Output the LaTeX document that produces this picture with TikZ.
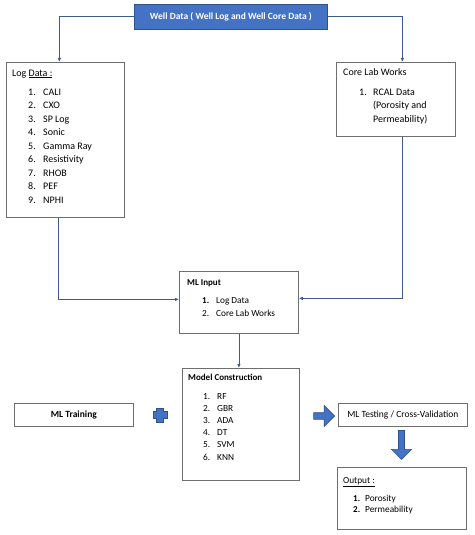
\documentclass[tikz,border=0pt]{standalone}
\usepackage{fontspec}
\setmainfont{Carlito}
\usepackage{tikz}
\usetikzlibrary{arrows.meta, shapes.arrows}

\definecolor{wellblue}{HTML}{4472C4}
\definecolor{welledge}{HTML}{2F528F}
\definecolor{linkblue}{HTML}{40598A}
\definecolor{boxgray}{HTML}{6E6E6E}

\tikzset{
  frame/.style={draw=boxgray, line width=0.8pt, inner sep=0pt, anchor=north west},
  link/.style={draw=linkblue, line width=0.8pt, -{Latex[length=4pt,width=3.5pt]}},
  txt/.style={anchor=base west, inner sep=0pt},
  bigtxt/.style={txt, font=\fontsize{10}{12}\selectfont},
  smalltxt/.style={txt, font=\fontsize{9.3}{11}\selectfont},
  boldtxt/.style={txt, font=\fontsize{9}{11}\selectfont\bfseries},
  blockarrow/.style={single arrow, fill=wellblue, draw=welledge, line width=0.6pt, inner sep=3pt}
}

\begin{document}
\begin{tikzpicture}[x=1pt, y=-1pt]
\useasboundingbox (0,0) rectangle (474,535);

% Well data
\node[frame, draw=welledge, fill=wellblue, minimum width=193pt, minimum height=25pt,
  text=white, font=\fontsize{9.5}{11}\selectfont\bfseries] (well) at (134,4)
  {Well Data ( Well Log and Well Core Data )};

% Log data
\node[frame, minimum width=118pt, minimum height=155pt] (logdata) at (6,62) {};
\node[bigtxt] (loghead) at (12,76) {Log \underline{Data :}};
\foreach \lbl [count=\i] in {CALI,CXO,SP Log,Sonic,Gamma Ray,Resistivity,RHOB,PEF,NPHI}{
  \node[bigtxt] (lognum\i) at (28,{95+13.5*(\i-1)}) {\i.};
  \node[bigtxt] (logitem\i) at (43,{95+13.5*(\i-1)}) {\lbl};
}

% Core lab works
\node[frame, minimum width=119pt, minimum height=74pt] (corelab) at (336,62) {};
\node[bigtxt] (corehead) at (343,75) {Core Lab Works};
\node[bigtxt] (corenum1) at (359,95) {1.};
\node[bigtxt] (coreitem1) at (373,95) {RCAL Data};
\node[bigtxt] (coreitem2) at (373,108.5) {(Porosity and};
\node[bigtxt] (coreitem3) at (373,122) {Permeability)};

% ML input
\node[frame, minimum width=119pt, minimum height=62pt] (mlinput) at (179,271) {};
\node[boldtxt] (inhead) at (187,285) {ML Input};
\node[boldtxt] (innum1) at (202,303) {1.};
\node[smalltxt] (initem1) at (216,303) {Log Data};
\node[smalltxt] (innum2) at (202,316) {2.};
\node[smalltxt] (initem2) at (216,316) {Core Lab Works};

% Model construction
\node[frame, minimum width=117pt, minimum height=112pt] (model) at (182,368) {};
\node[boldtxt] (modhead) at (188,380) {Model Construction};
\foreach \lbl [count=\i] in {RF,GBR,ADA,DT,SVM,KNN}{
  \node[smalltxt] (modnum\i) at (203,{399+12.2*(\i-1)}) {\i.};
  \node[smalltxt] (moditem\i) at (217,{399+12.2*(\i-1)}) {\lbl};
}

% ML training
\node[frame, minimum width=119pt, minimum height=23pt,
  font=\fontsize{9.5}{11}\selectfont\bfseries] (training) at (14,403) {ML Training};

% ML testing
\node[frame, minimum width=129pt, minimum height=23pt,
  font=\fontsize{9.5}{11}\selectfont] (testing) at (338,403) {ML Testing / Cross-Validation};

% Output
\node[frame, minimum width=129pt, minimum height=62pt] (output) at (337,467) {};
\node[smalltxt] (outhead) at (343,483) {\underline{Output :}};
\node[boldtxt] (outnum1) at (353,501) {1.};
\node[smalltxt] (outitem1) at (365,501) {Porosity};
\node[boldtxt] (outnum2) at (353,512) {2.};
\node[smalltxt] (outitem2) at (365,512) {Permeability};

% Connectors
\draw[link] (well.west) -| ([xshift=-6pt]logdata.north);
\draw[link] (well.east) -| ([xshift=6.5pt]corelab.north);
\draw[link] ([xshift=-7pt]logdata.south) |- ([yshift=3pt]mlinput.west);
\draw[link] ([xshift=6.5pt]corelab.south) |- ([yshift=4pt]mlinput.east);
\draw[link] (mlinput.south) -- (mlinput.south |- model.north);

% Plus sign
\filldraw[fill=wellblue, draw=welledge, line width=0.6pt]
  (156.5,408) -- (163.5,408) -- (163.5,411.5) -- (167,411.5) -- (167,418.5)
  -- (163.5,418.5) -- (163.5,422) -- (156.5,422) -- (156.5,418.5) -- (153,418.5)
  -- (153,411.5) -- (156.5,411.5) -- cycle;

% Block arrows
\node[blockarrow, minimum height=21pt, minimum width=15pt] (rightarrow) at (322.5,416) {};
\node[blockarrow, rotate=-90, inner sep=2.7pt, minimum height=29pt, minimum width=12pt] (downarrow) at (401.5,443.5) {};
\end{tikzpicture}
\end{document}
